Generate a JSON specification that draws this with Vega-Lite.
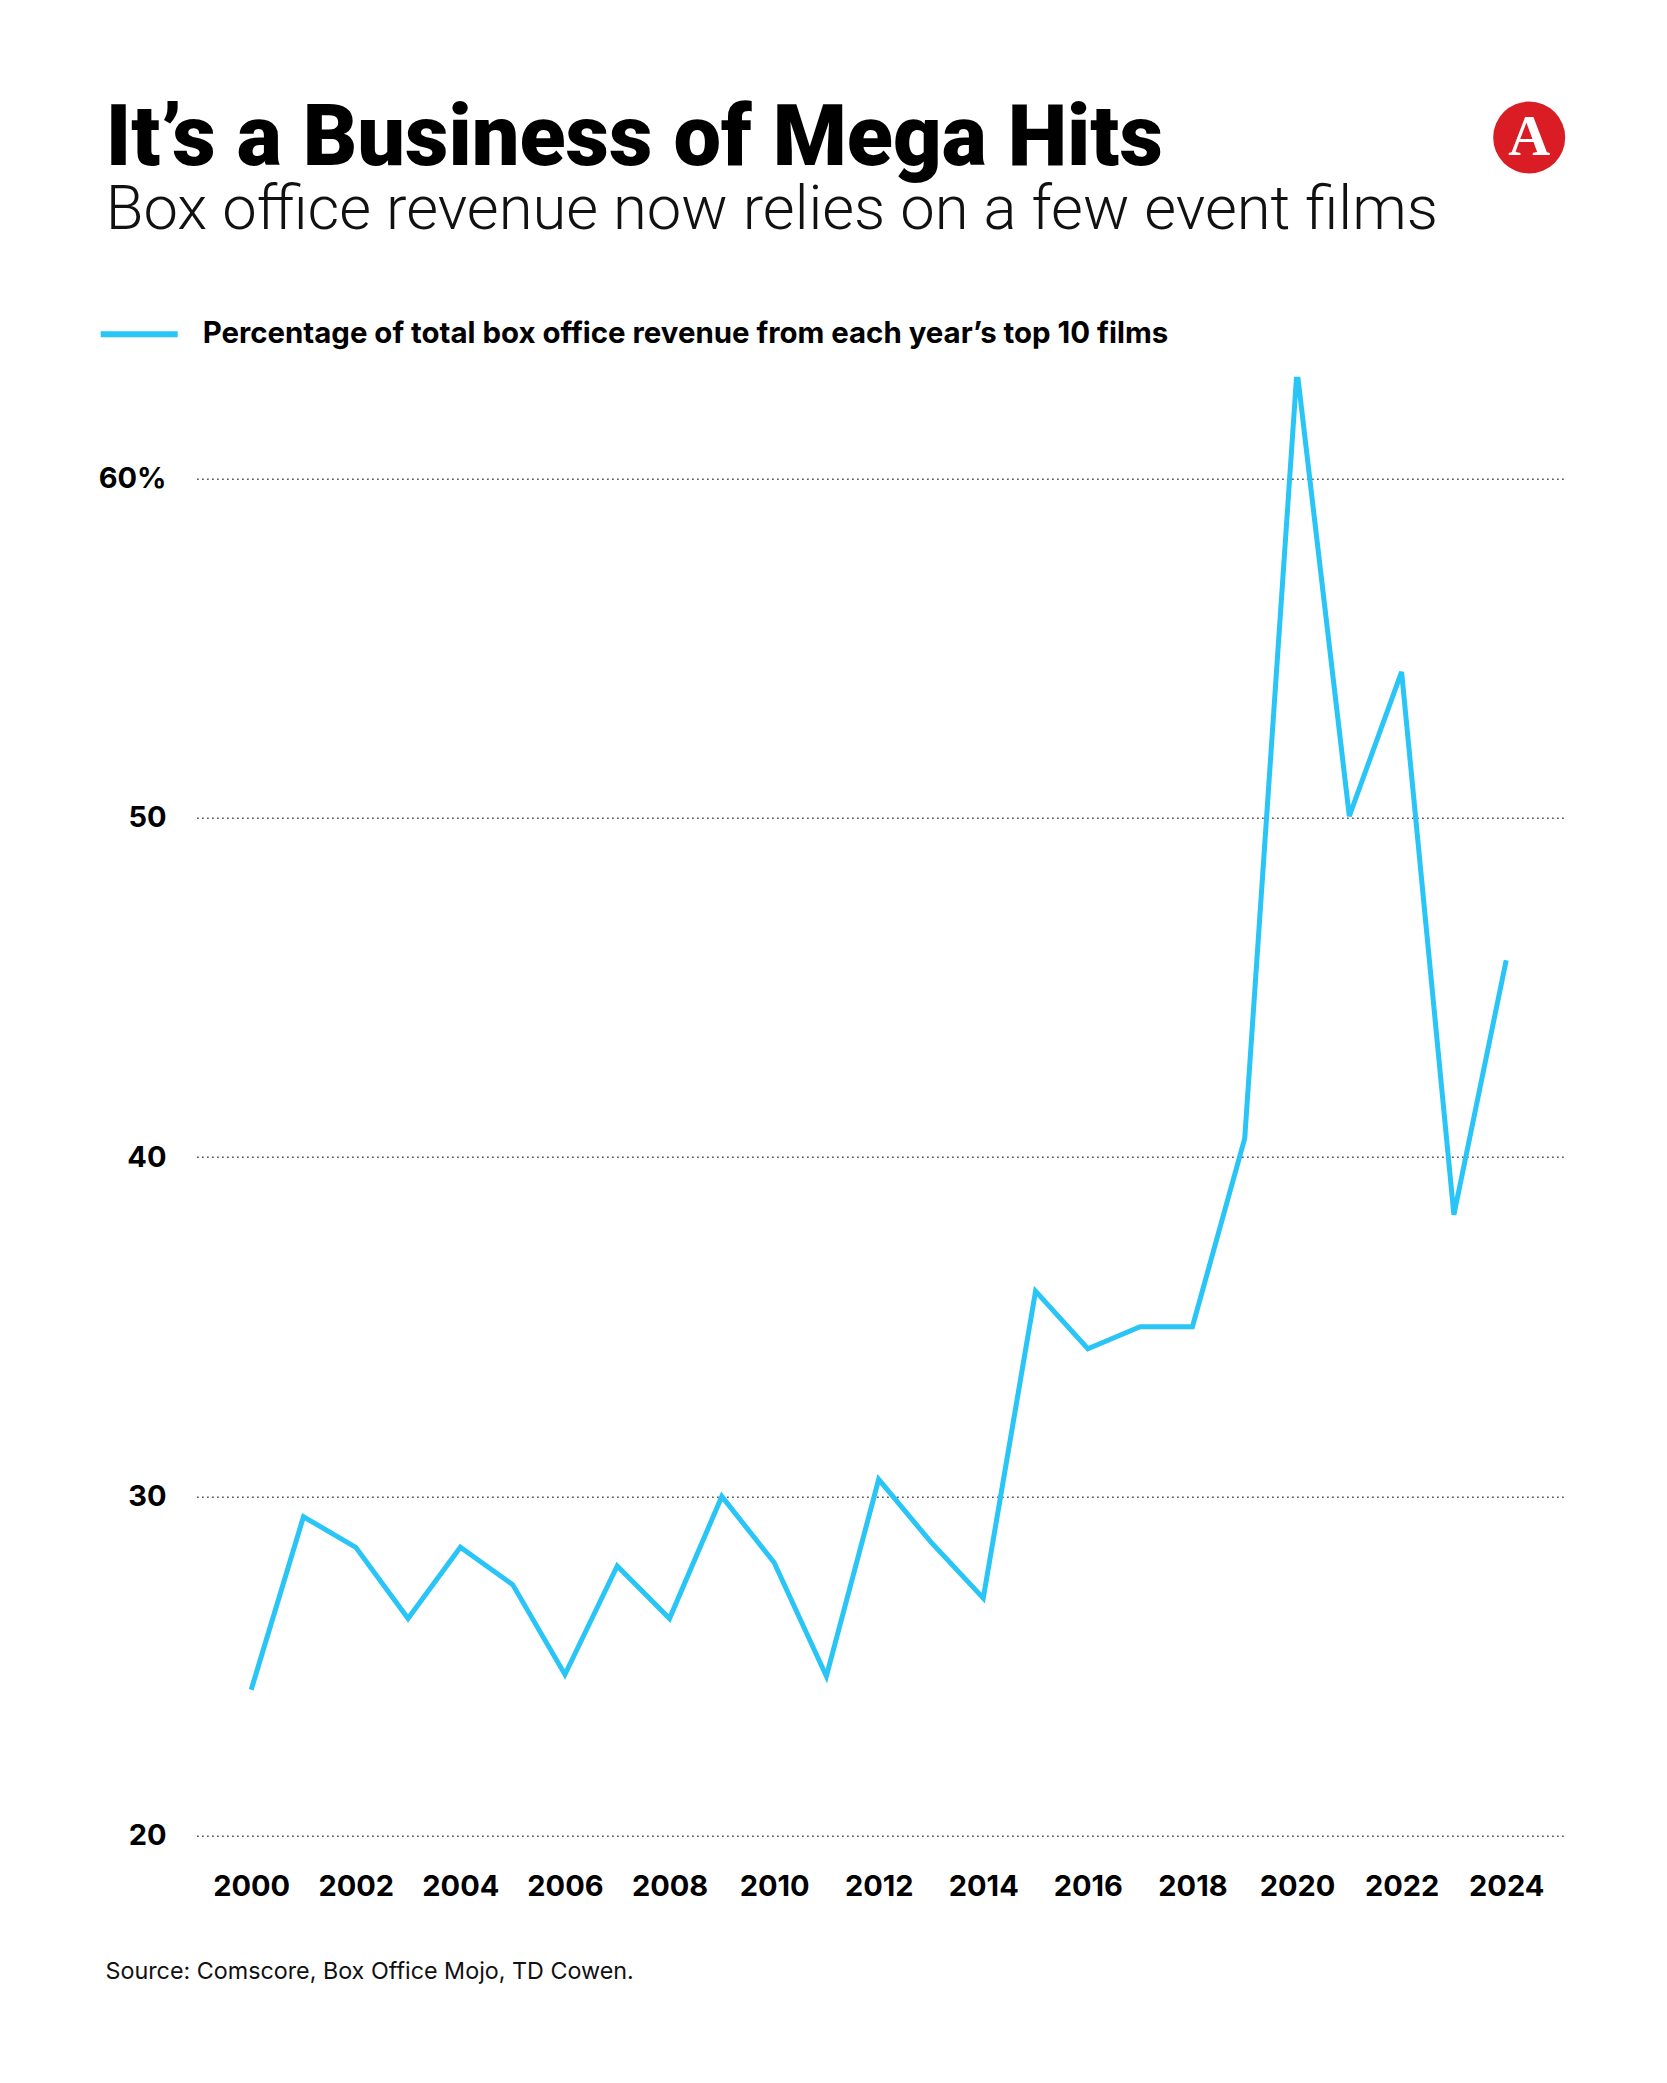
{
  "$schema": "https://vega.github.io/schema/vega-lite/v6.json",
  "width": 1368,
  "height": 1459,
  "autosize": {"type": "none"},
  "padding": {"left": 196.7, "top": 376.7, "right": 102.3, "bottom": 247.3},
  "background": "white",
  "config": {
    "view": {"stroke": null},
    "font": "Inter",
    "axis": {"labelFont": "Inter", "labelFontWeight": "bold", "labelFontSize": 29, "labelColor": "#000", "ticks": false, "domain": false}
  },
  "title": {
    "text": "It’s a Business of Mega Hits",
    "subtitle": "Box office revenue now relies on a few event films",
    "anchor": "start",
    "frame": "group",
    "dx": -91,
    "dy": 161,
    "offset": 20,
    "font": "Roboto",
    "fontSize": 84.6,
    "fontWeight": 900,
    "color": "#000",
    "subtitleFont": "Roboto",
    "subtitleFontSize": 61.5,
    "subtitleFontWeight": 300,
    "subtitleColor": "#111",
    "subtitlePadding": -2.6
  },
  "data": {
    "values": [
      {"year": 2000, "pct": 24.3},
      {"year": 2001, "pct": 29.4},
      {"year": 2002, "pct": 28.5},
      {"year": 2003, "pct": 26.4},
      {"year": 2004, "pct": 28.5},
      {"year": 2005, "pct": 27.4},
      {"year": 2006, "pct": 24.75},
      {"year": 2007, "pct": 27.95},
      {"year": 2008, "pct": 26.4},
      {"year": 2009, "pct": 30.0},
      {"year": 2010, "pct": 28.05},
      {"year": 2011, "pct": 24.7},
      {"year": 2012, "pct": 30.5},
      {"year": 2013, "pct": 28.65},
      {"year": 2014, "pct": 27.0},
      {"year": 2015, "pct": 36.05},
      {"year": 2016, "pct": 34.35},
      {"year": 2017, "pct": 35.0},
      {"year": 2018, "pct": 35.0},
      {"year": 2019, "pct": 40.55},
      {"year": 2020, "pct": 63.2},
      {"year": 2021, "pct": 50.05},
      {"year": 2022, "pct": 54.3},
      {"year": 2023, "pct": 38.3},
      {"year": 2024, "pct": 45.8}
    ]
  },
  "layer": [
    {
      "mark": {"type": "line", "strokeWidth": 5, "clip": true, "strokeJoin": "miter"},
      "encoding": {
        "x": {
          "field": "year",
          "type": "quantitative",
          "scale": {"domain": [1998.958, 2025.119], "nice": false, "zero": false},
          "axis": {
            "values": [2000, 2002, 2004, 2006, 2008, 2010, 2012, 2014, 2016, 2018, 2020, 2022, 2024],
            "format": "d",
            "grid": false,
            "labelPadding": 37,
            "labelAlign": "center",
            "labelBaseline": "top",
            "title": "Source: Comscore, Box Office Mojo, TD Cowen.",
            "titleFont": "Inter",
            "titleFontWeight": "normal",
            "titleFontSize": 23.3,
            "titleColor": "#111",
            "titleAlign": "left",
            "titleBaseline": "alphabetic",
            "titleX": -91.7,
            "titleY": 143
          }
        },
        "y": {
          "field": "pct",
          "type": "quantitative",
          "scale": {"domain": [20, 63], "nice": false, "zero": false},
          "axis": {
            "values": [20, 30, 40, 50, 60],
            "labelExpr": "datum.value == 60 ? '60%' : datum.label",
            "title": null,
            "grid": true,
            "gridColor": "#333",
            "gridWidth": 1.4,
            "gridDash": [1.4, 3.6],
            "labelPadding": 30.7,
            "labelAlign": "right",
            "labelBaseline": "middle"
          }
        },
        "color": {
          "datum": "Percentage of total box office revenue from each year’s top 10 films",
          "type": "nominal",
          "scale": {"range": ["#29C5F6"]},
          "legend": {
            "orient": "none",
            "legendX": -99,
            "legendY": -84,
            "title": null,
            "symbolType": "stroke",
            "symbolSize": 5929,
            "symbolStrokeWidth": 6,
            "labelFont": "Inter",
            "labelFontSize": 29.4,
            "labelFontWeight": "bold",
            "labelColor": "#000",
            "labelOffset": 22,
            "labelLimit": 0,
            "padding": 0
          }
        }
      }
    },
    {
      "data": {"values": [{"logo": "A"}]},
      "mark": {"type": "point", "filled": true, "size": 5184, "color": "#DA1C24", "opacity": 1},
      "encoding": {
        "x": {"datum": 2024.44, "type": "quantitative"},
        "y": {"datum": 70.05, "type": "quantitative"}
      }
    },
    {
      "data": {"values": [{"logo": "A"}]},
      "mark": {"type": "text", "font": "Liberation Serif", "fontWeight": "bold", "fontSize": 58, "color": "white", "align": "center", "baseline": "middle", "dy": 1},
      "encoding": {
        "x": {"datum": 2024.44, "type": "quantitative"},
        "y": {"datum": 70.05, "type": "quantitative"},
        "text": {"field": "logo"}
      }
    }
  ]
}
